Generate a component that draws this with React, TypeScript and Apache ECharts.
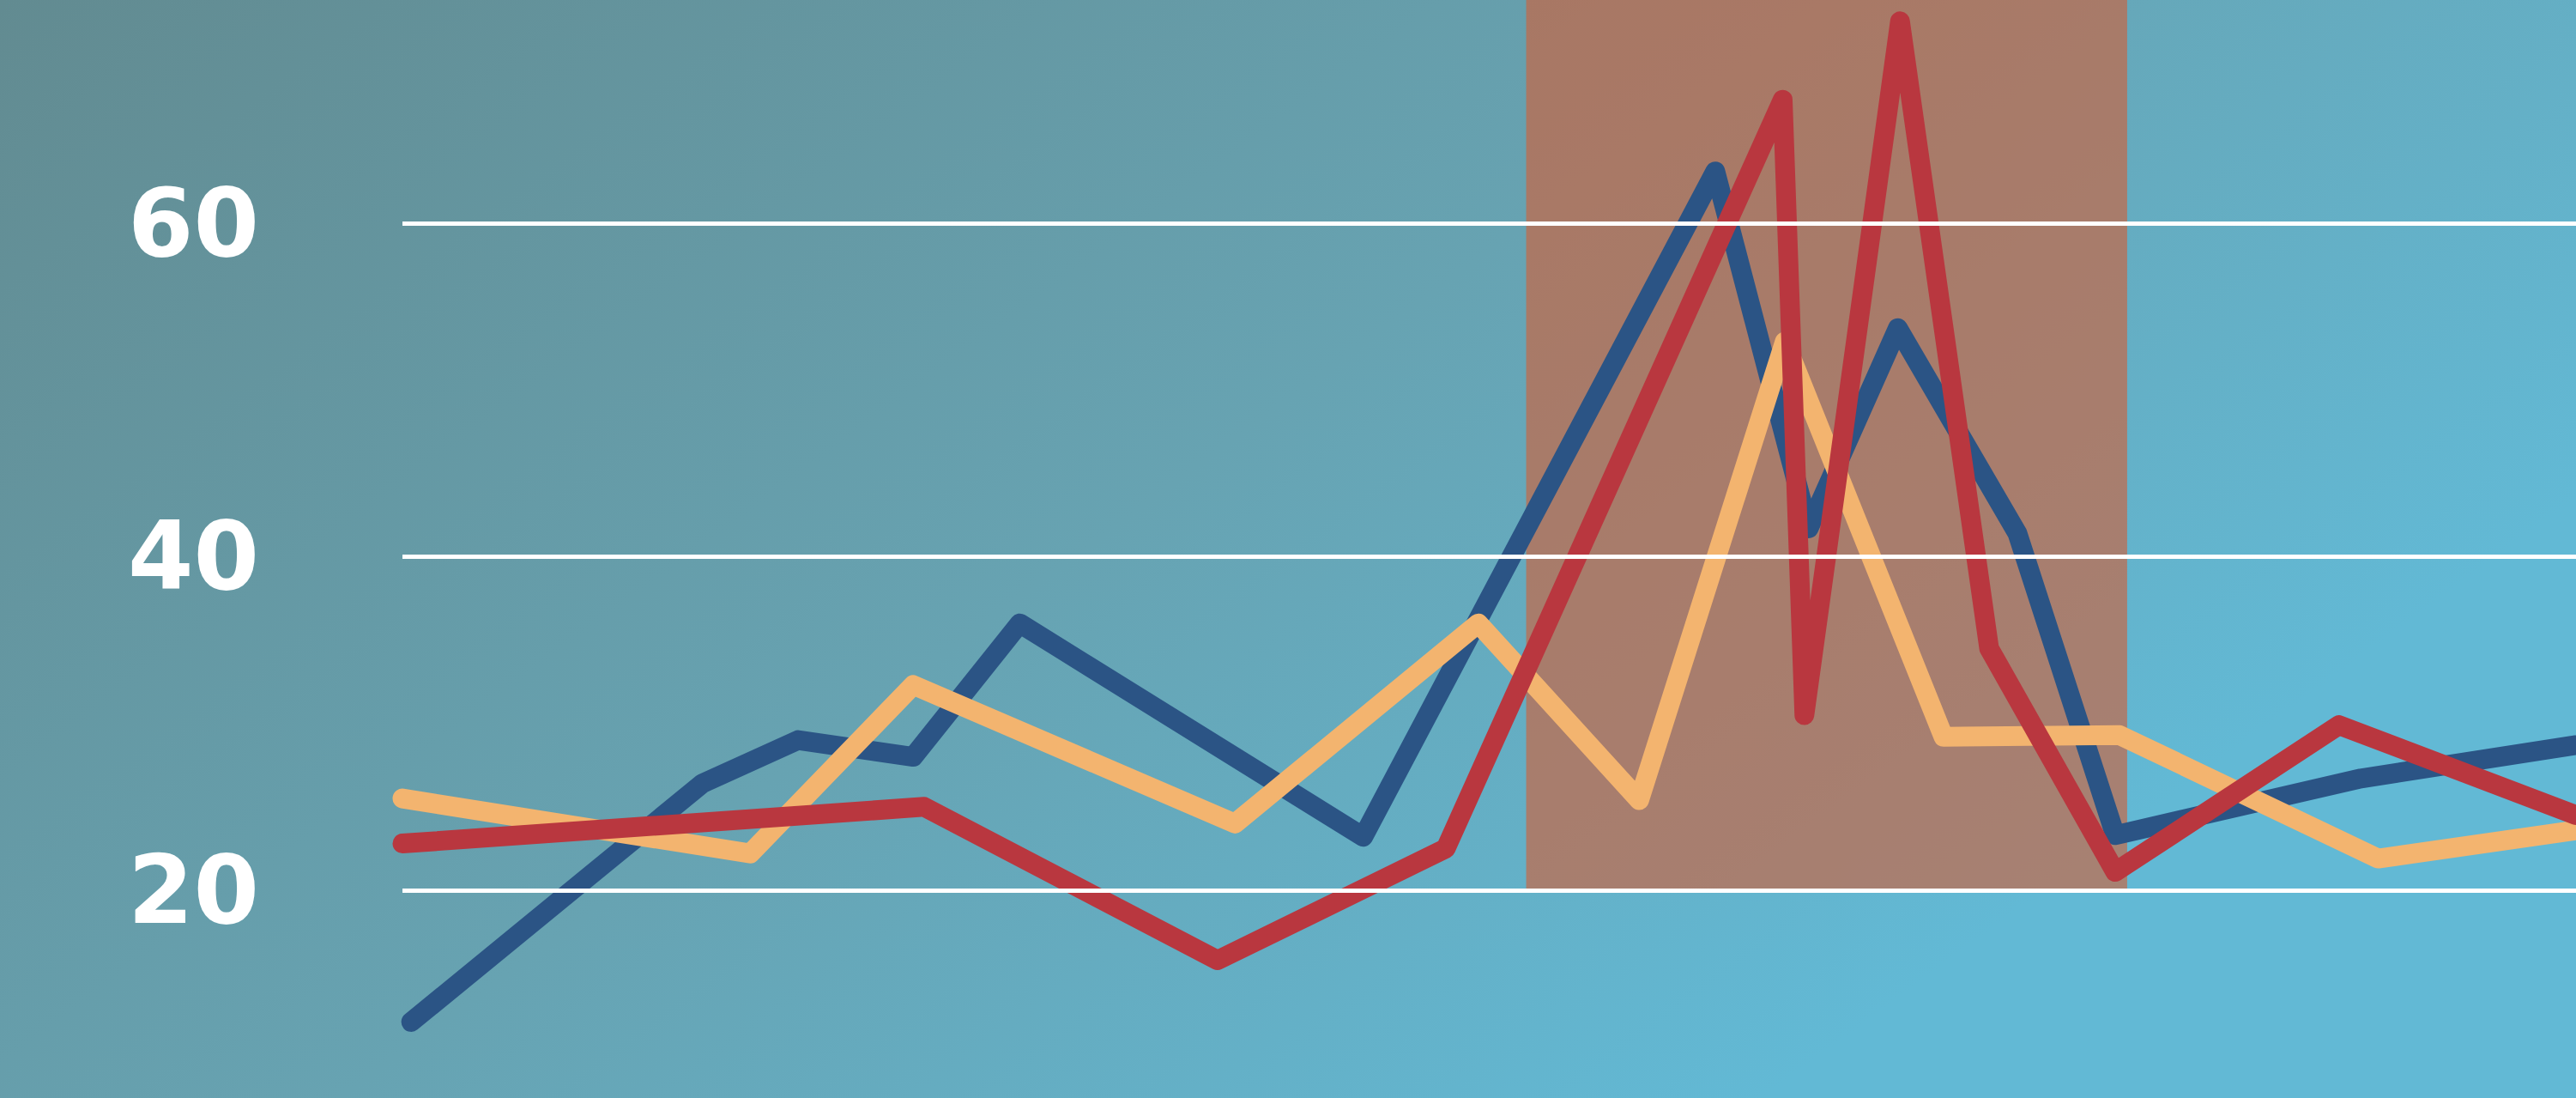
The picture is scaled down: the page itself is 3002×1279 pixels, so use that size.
import { useEffect, useRef } from "react";
import * as echarts from "echarts";

// y tick labels shown on the left
const yTicks = [20, 40, 60];
// visible value range of the y axis (page top/bottom)
const yMin = 7.54;
const yMax = 73.38;

// x positions are on a 0..100 scale across the plot width
const blueX = [0.4, 13.8, 18.2, 23.5, 28.4, 44.2, 60.4, 64.7, 68.8, 74.3, 78.8, 90.1, 100];
const blueY = [12.1, 26.4, 29.0, 28.0, 36.0, 23.2, 63.1, 41.7, 53.7, 41.4, 23.3, 26.7, 28.7];

const yellowX = [0, 16.0, 23.5, 38.3, 49.5, 56.9, 63.6, 70.9, 79.0, 90.9, 100];
const yellowY = [25.5, 22.2, 32.3, 24.0, 36.0, 25.4, 52.9, 29.2, 29.3, 21.9, 23.6];

const redX = [0, 24.0, 37.5, 48.0, 63.5, 64.5, 68.9, 73.0, 78.8, 89.1, 100];
const redY = [22.8, 25.0, 15.8, 22.5, 67.4, 30.5, 72.1, 34.5, 21.1, 29.9, 24.5];

// highlighted band
const bandX = [51.7, 79.35];
const bandY = [20, yMax];

const zip = (xs: number[], ys: number[]) => xs.map((x, i) => [x, ys[i]]);

export default function App() {
  const chartRef = useRef<HTMLDivElement>(null);

  useEffect(() => {
    if (!chartRef.current) return;
    const chart = echarts.init(chartRef.current, undefined, { renderer: "svg" });

    const line = (name: string, data: number[][], color: string) => ({
      name,
      type: "line",
      data,
      z: 3,
      showSymbol: false,
      symbol: "none",
      lineStyle: { color, width: 23, cap: "round", join: "round" },
      silent: true,
    });

    const option: echarts.EChartsOption = {
      animation: false,
      backgroundColor: "transparent",
      grid: { left: 469, right: 0, top: 0, bottom: 0, show: false },
      xAxis: {
        type: "value",
        min: 0,
        max: 100,
        show: false,
      },
      yAxis: {
        type: "value",
        min: yMin,
        max: yMax,
        splitNumber: 3,
        minInterval: 20,
        maxInterval: 20,
        z: 10,
        axisLine: { show: false },
        axisTick: { show: false },
        splitArea: { show: false },
        axisLabel: {
          show: true,
          showMinLabel: false,
          showMaxLabel: false,
          color: "#ffffff",
          fontFamily: "DejaVu Sans",
          fontWeight: "bold",
          fontSize: 110,
          align: "left",
          margin: 320,
          formatter: (v: number) => (yTicks.includes(v) ? String(v) : ""),
        },
        splitLine: {
          show: true,
          showMinLine: false,
          showMaxLine: false,
          lineStyle: { color: "#ffffff", width: 5 },
        },
      },
      series: [
        {
          type: "line",
          data: [],
          z: 1,
          silent: true,
          markArea: {
            silent: true,
            itemStyle: { color: "rgba(205, 99, 62, 0.65)" },
            data: [[{ xAxis: bandX[0], yAxis: bandY[0] }, { xAxis: bandX[1], yAxis: bandY[1] }]],
          },
        },
        line("blue", zip(blueX, blueY), "#2b5485"),
        line("yellow", zip(yellowX, yellowY), "#f3b46f"),
        line("red", zip(redX, redY), "#b9373f"),
      ] as any,
    };

    chart.setOption(option);
    return () => chart.dispose();
  }, []);

  return (
    <div
      ref={chartRef}
      style={{
        position: "fixed",
        left: 0,
        top: 0,
        width: "100vw",
        height: "100vh",
        background: "linear-gradient(143.6deg, #628b91 0%, #67a3b2 45%, #62b9d5 80%, #62b9d5 100%)",
      }}
    />
  );
}
